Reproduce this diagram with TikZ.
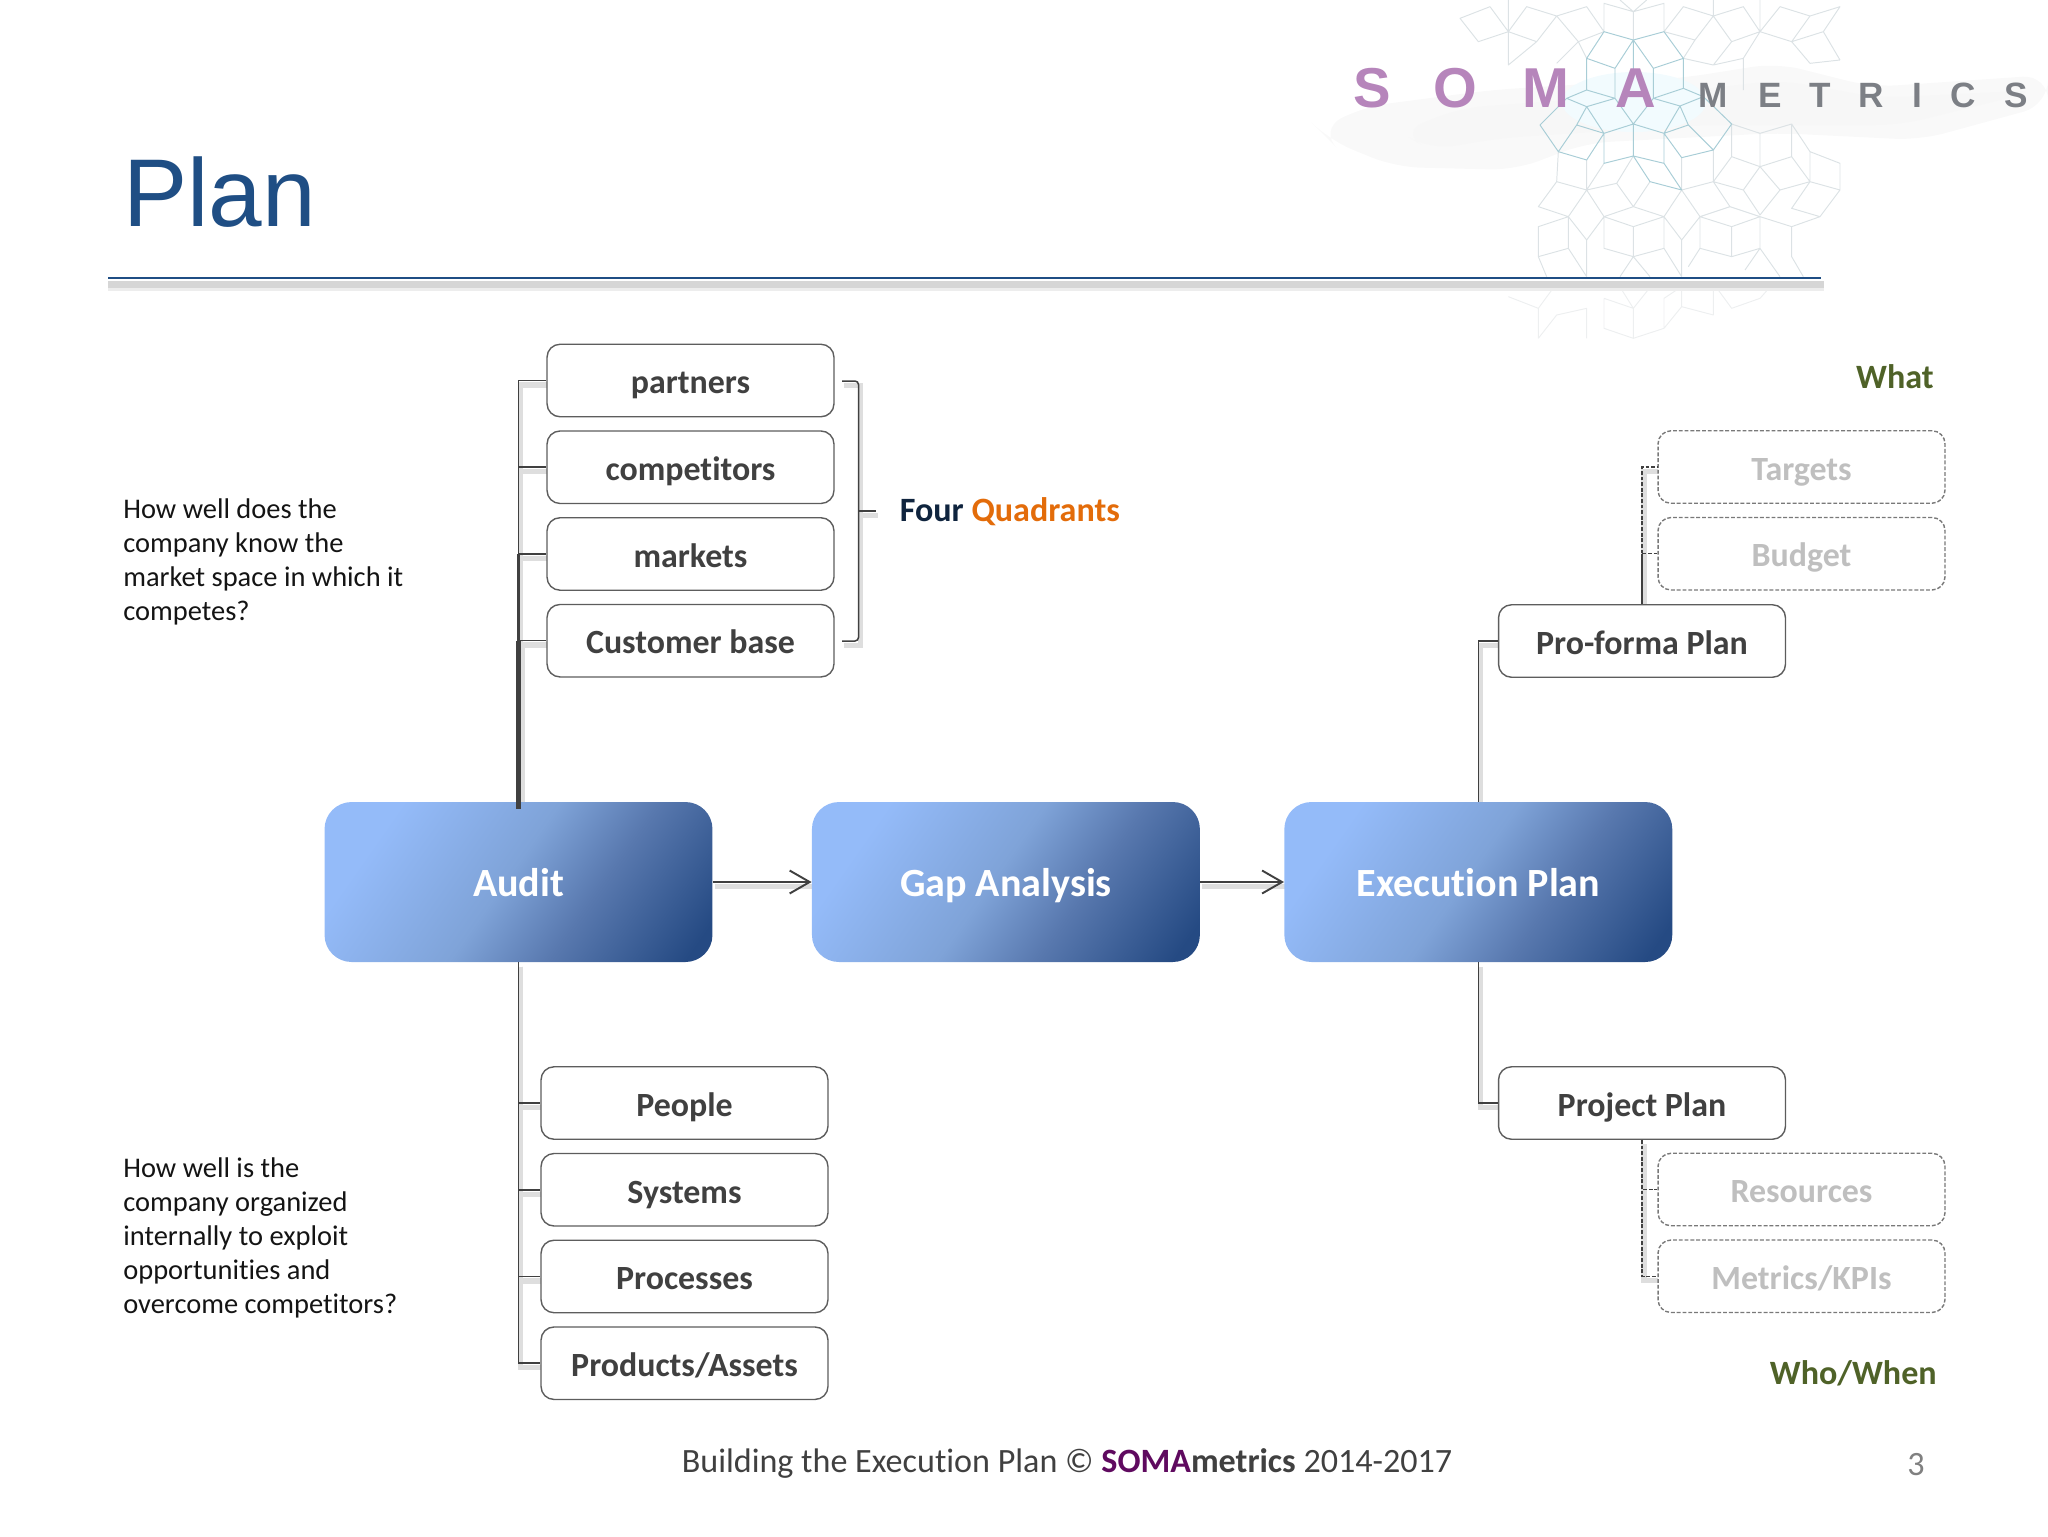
\documentclass[tikz,border=0pt]{standalone}
\usepackage{fontspec}
\setmainfont{Carlito}[RawFeature=-liga]
\newfontfamily\logofont{Liberation Sans}
\usetikzlibrary{arrows.meta, backgrounds}

\definecolor{linegray}{HTML}{404040}
\definecolor{titleblue}{HTML}{1F4E84}
\definecolor{whatgreen}{HTML}{4F6228}
\definecolor{fourblue}{HTML}{0F243E}
\definecolor{quadorange}{HTML}{E36C0A}
\definecolor{somapurple}{HTML}{5F0A5F}
\definecolor{logopink}{HTML}{B685BB}
\definecolor{logogray}{HTML}{7C7F85}
\definecolor{tileteal}{HTML}{A8CDD6}
\definecolor{tilegray}{HTML}{DCE2E5}
\definecolor{tilefaint}{HTML}{EDEFF0}
\definecolor{fadeA}{HTML}{94BBF9}
\definecolor{fadeB}{HTML}{7FA3D8}
\definecolor{fadeD}{HTML}{5878AE}
\definecolor{fadeC}{HTML}{254A83}

\pgfdeclarehorizontalshading{boxfade}{100bp}{color(0bp)=(fadeA); color(26bp)=(fadeA); color(48bp)=(fadeB); color(62bp)=(fadeD); color(81bp)=(fadeC); color(100bp)=(fadeC)}

\tikzstyle{mainbox} = [rectangle, rounded corners=.54cm, minimum width=7.76cm, minimum height=3.2cm, inner sep=0pt, text centered, shading=boxfade, shading angle=-35, text=white, font=\fontsize{22.8}{22.8}\selectfont\bfseries, text height=.72cm, text depth=.16cm]
\tikzstyle{itembox} = [rectangle, rounded corners=.26cm, minimum width=5.74cm, minimum height=1.45cm, inner sep=0pt, text centered, draw=linegray!85, line width=.8pt, fill=white, text=linegray, font=\fontsize{19.3}{19.3}\selectfont\bfseries, text height=.63cm, text depth=.1cm]
\tikzstyle{ghostbox} = [itembox, dashed, dash pattern=on 2.2pt off 1.1pt, draw=linegray!70, text=black!25]
\tikzstyle{conn} = [draw=linegray, line width=.85pt]
\tikzstyle{connshadow} = [draw=black!13, line width=3pt, transform canvas={xshift=1.2pt, yshift=-2.5pt}]
\tikzstyle{dashconn} = [draw=linegray, line width=.75pt, dash pattern=on 2.2pt off 1pt]
\tikzstyle{arrow} = [conn, line width=1.1pt, -{Straight Barb[length=.4cm, width=.46cm]}]
\tikzstyle{question} = [anchor=north west, inner sep=0pt, align=left, text=black!92, font=\fontsize{16.2}{19.35}\selectfont]
\tikzstyle{sidelabel} = [anchor=base east, inner sep=0pt, text=whatgreen, font=\fontsize{19.4}{19.4}\selectfont\bfseries]
\tikzstyle{tile} = [line width=.55pt, line join=round]

\begin{document}
\begin{tikzpicture}[x=.02cm, y=-.02cm, node distance=1.735cm]

    \useasboundingbox (0,0) rectangle (2048,1536);

    % Logo smudge behind the letters
    \fill [black!2.5, rounded corners=.5cm] (1319,130) -- (1362,107) -- (1491,90) -- (1682,78) -- (1777,63) -- (1872,87) -- (2048,75) -- (2048,105) -- (1920,140) -- (1777,133) -- (1586,143) -- (1515,170) -- (1395,167) -- (1329,140) -- cycle;
    \fill [black!3, rounded corners=.5cm] (1400,132) -- (1460,108) -- (1680,92) -- (1780,80) -- (1880,98) -- (2040,90) -- (1900,125) -- (1700,125) -- (1500,138) -- (1430,150) -- cycle;
    \fill [cyan!5] (1634,102) ellipse (72 and 30);

    % Logo tiles (traced in a 3x grid)
    \begin{scope}[shift={(1440,0)}, x=.006667cm, y=-.006667cm]
        \draw [tile, tilefaint] (205,890) -- (295,925) -- (350,850) (295,925) -- (295,1015) (350,945) -- (440,925) -- (440,1015) (350,945) -- (295,1015)
            (492,895) -- (580,925) -- (640,850) (492,895) -- (492,985) -- (580,1015) -- (672,985) -- (672,895) -- (725,860) -- (725,920) -- (672,985)
            (580,925) -- (580,1015) (580,925) -- (530,845) (725,920) -- (820,945) -- (820,845) (875,925) -- (960,895) -- (1000,850) (875,925) -- (820,850);
        \draw [tile, tilegray] (60,55) -- (150,20) -- (205,95) -- (115,125) -- cycle (205,95) -- (205,0)
            (205,95) -- (260,20) -- (350,48) -- (290,125) -- cycle (205,95) -- (205,195) -- (290,125) (350,48) -- (440,20) -- (492,95) -- (415,125) -- cycle (415,125) -- (440,175) (415,125) -- (350,190)
            (492,95) -- (492,10) -- (580,35) -- (672,10) -- (672,95) (580,120) -- (580,35) (580,35) -- (540,0) (580,35) -- (620,0)
            (672,95) -- (730,20) -- (820,48) -- (765,120) -- cycle (820,48) -- (910,20) -- (960,95) -- (875,125) -- cycle (820,48) -- (820,0) (960,95) -- (960,0)
            (960,95) -- (1020,20) -- (1110,48) -- (1055,125) -- cycle (1110,48) -- (1200,20) -- (1150,95) -- (1055,125) (1150,95) -- (1200,180)
            (730,175) -- (765,120) (875,125) -- (820,195) -- (910,175) -- (960,95) (820,195) -- (730,175) (910,175) -- (910,270) (1055,125) -- (1110,190) -- (1200,180)
            (875,372) -- (960,400) -- (1055,372) -- (1110,455) -- (1110,545) (875,372) -- (875,470) -- (960,500) -- (1055,470) (960,400) -- (960,500) (1055,372) -- (1055,470) -- (1110,545)
            (1110,455) -- (1200,490) -- (1200,570) -- (1110,545) (960,500) -- (910,570) -- (960,645) -- (1020,570) -- cycle (875,470) -- (820,545) -- (910,570)
            (820,545) -- (870,620) -- (960,650) (1020,570) -- (1110,545) (960,650) -- (1055,680) -- (1140,650) -- (1200,570) (1110,545) -- (1055,625) -- (1140,650)
            (725,473) -- (725,570) (820,450) -- (820,545) -- (725,570) (725,570) -- (780,650) -- (870,620) (780,650) -- (875,680) -- (960,650)
            (630,545) -- (580,620) -- (530,550) -- (580,468) (530,550) -- (440,570) -- (492,650) -- (580,620) -- (672,650) -- (725,570) (440,570) -- (492,490)
            (440,480) -- (440,570) (355,455) -- (350,545) -- (440,570) (350,545) -- (295,620) -- (385,650) -- (440,570) (385,650) -- (440,720) -- (492,650)
            (672,650) -- (725,720) -- (780,650) (492,650) -- (492,745) -- (580,770) -- (672,745) -- (672,650) (580,680) -- (492,650) (580,680) -- (672,650) (580,680) -- (580,770)
            (875,680) -- (875,770) -- (780,745) -- (780,650) (960,650) -- (960,745) -- (875,770) (1055,680) -- (1055,770) -- (1090,830) (960,745) -- (1020,830) (960,745) -- (915,810)
            (295,680) -- (385,650) -- (385,745) -- (295,770) -- cycle (385,745) -- (440,830) (295,770) -- (320,830) (440,720) -- (440,830) (725,720) -- (725,830) (580,770) -- (540,830) (580,770) -- (630,830) (725,830) -- (672,745) (780,745) -- (745,800);
        \draw [tile, tileteal] (580,120) -- (492,95) -- (440,175) -- (525,205) -- cycle (580,120) -- (672,95) -- (730,175) -- (640,205) -- cycle (580,120) -- (580,230)
            (440,175) -- (440,270) -- (525,295) -- (525,205) (730,175) -- (730,265) -- (640,295) -- (640,205) (440,270) -- (380,295) -- (440,320) -- (525,295)
            (730,265) -- (790,290) -- (720,318) -- (640,295) (440,320) -- (492,400) -- (580,372) -- (525,295) (720,318) -- (672,400) -- (580,372) -- (640,295)
            (380,295) -- (300,375) -- (355,455) -- (410,375) -- (440,320) (355,455) -- (440,480) -- (492,400) -- (410,375) (580,372) -- (580,468) -- (492,490) -- (492,400)
            (580,468) -- (672,490) -- (672,400) (672,400) -- (725,473) -- (820,450) -- (875,372) -- (790,290) (672,400) -- (745,375) -- (820,450) (745,375) -- (720,318)
            (580,468) -- (630,545) -- (725,570) -- (672,490);
    \end{scope}

    % Logo letters
    \foreach \letter/\xpos in {S/1372, O/1455, M/1546, A/1636}
        \node [anchor=base, inner sep=0pt, text=logopink, font=\logofont\fontsize{32}{32}\selectfont\bfseries] at (\xpos,107) {\letter};
    \foreach \letter/\xpos in {M/1713, E/1770, T/1820, R/1871, I/1917, C/1963, S/2016}
        \node [anchor=base, inner sep=0pt, text=logogray, font=\logofont\fontsize{20}{20}\selectfont\bfseries] at (\xpos,107) {\letter};

    % Title and rule
    \node (title) [anchor=base west, inner sep=0pt, text=titleblue, font=\logofont\fontsize{54.8}{54.8}\selectfont] at (123,226) {Plan};
    \coordinate (ruleL) at (108,278);
    \coordinate (ruleR) at (1821,278);
    \fill [black!16] (108,281) rectangle (1824,288);
    \fill [black!7] (108,288) rectangle (1824,291);
    \draw [draw=titleblue, line width=.85pt] (ruleL) -- (ruleR);

    % Main boxes
    \node (audit) [mainbox] at (518.5,882) {Audit};
    \node (gap) [mainbox, right of=audit, xshift=8.015cm] {Gap Analysis};
    \node (exec) [mainbox, right of=gap, xshift=7.715cm] {Execution Plan};

    % Upper audit boxes
    \node (partners) [itembox] at (690.5,380.5) {partners};
    \node (competitors) [itembox, below of=partners] {competitors};
    \node (markets) [itembox, below of=competitors] {markets};
    \node (customers) [itembox, below of=markets] {Customer base};

    % Lower audit boxes
    \node (people) [itembox] at (684.5,1103) {People};
    \node (systems) [itembox, below of=people] {Systems};
    \node (processes) [itembox, below of=systems] {Processes};
    \node (products) [itembox, below of=processes] {Products/Assets};

    % Execution boxes
    \node (proforma) [itembox] at (1642,641) {Pro-forma Plan};
    \node (project) [itembox] at (1642,1103) {Project Plan};
    \node (targets) [ghostbox] at (1801.5,467) {Targets};
    \node (budget) [ghostbox, below of=targets] {Budget};
    \node (resources) [ghostbox] at (1801.5,1189.5) {Resources};
    \node (metrics) [ghostbox, below of=resources] {Metrics/KPIs};

    % Questions and side labels
    \node (knowQ) [question] at (123,498) {How well does the\\company know the\\market space in which it\\competes?};
    \node (orgQ) [question] at (123,1157) {How well is the\\company organized\\internally to exploit\\opportunities and\\overcome competitors?};
    \node (what) [sidelabel] at (1934,388) {What};
    \node (whoWhen) [sidelabel] at (1937,1384) {Who/When};
    \node (quadrants) [anchor=base west, inner sep=0pt, font=\fontsize{19.4}{19.4}\selectfont\bfseries] at (899.5,521) {\textcolor{fourblue}{Four} \textcolor{quadorange}{Quadrants}};

    % Footer
    \node (footer) [anchor=base, inner sep=0pt, text=linegray, font=\fontsize{19.4}{19.4}\selectfont] at (1067,1472) {Building the Execution Plan © \textbf{\textcolor{somapurple}{SOMA}metrics} 2014-2017};
    \node (pageNo) [anchor=base, inner sep=0pt, text=black!50, font=\fontsize{19.4}{19.4}\selectfont] at (1916,1475) {3};

    % Bracket points
    \coordinate (braceTop) at (842,381);
    \coordinate (braceBot) at (842,641);
    \coordinate (braceMid) at (858.5,511);
    \coordinate (braceTip) at (875.5,511);

    % Shadows under the connectors
    \begin{scope}[on background layer]
        \foreach \from/\to in {audit.north/partners.west, audit.north/competitors.west, audit.north/markets.west, audit.north/customers.west, audit.south/people.west, audit.south/systems.west, audit.south/processes.west, audit.south/products.west, exec.north/proforma.west, exec.south/project.west, proforma.north/targets.west, project.south/metrics.west}
            \draw [connshadow] (\from) |- (\to);
        \draw [connshadow, line width=4.5pt] (audit.north) -- (audit.north |- customers.west);
        \draw [connshadow] (braceTop) -| (braceMid) |- (braceBot);
        \draw [connshadow] (braceMid) -- (braceTip);
        \draw [connshadow] (audit) -- (gap);
        \draw [connshadow] (gap) -- (exec);
    \end{scope}

    % Arrows between main boxes
    \draw [arrow] (audit) -- (gap);
    \draw [arrow] (gap) -- (exec);

    % Audit up to its boxes
    \draw [conn] (audit.north) |- (partners.west);
    \draw [conn] (audit.north) |- (competitors.west);
    \draw [conn] (audit.north) |- (markets.west);
    \draw [conn] (audit.north) |- (customers.west);
    \draw [conn, line width=1.3pt] (audit.north) -- (audit.north |- markets.west);
    \draw [conn, line width=2.6pt, shorten <=-4pt] (audit.north) -- (audit.north |- customers.west);

    % Audit down to its boxes
    \draw [conn] (audit.south) |- (people.west);
    \draw [conn] (audit.south) |- (systems.west);
    \draw [conn] (audit.south) |- (processes.west);
    \draw [conn] (audit.south) |- (products.west);

    % Execution Plan to its boxes
    \draw [conn] (exec.north) |- (proforma.west);
    \draw [conn] (exec.south) |- (project.west);

    % Dashed branches
    \draw [dashconn] (proforma.north) |- (targets.west);
    \draw [dashconn] (proforma.north) |- (budget.west);
    \draw [conn] (proforma.north) -- (proforma.north |- budget.west);
    \draw [dashconn] (project.south) |- (resources.west);
    \draw [dashconn] (project.south) |- (metrics.west);

    % Bracket beside the upper boxes
    \draw [conn, rounded corners=2pt] (braceTop) -| (braceMid) |- (braceBot);
    \draw [conn] (braceMid) -- (braceTip);

\end{tikzpicture}
\end{document}
